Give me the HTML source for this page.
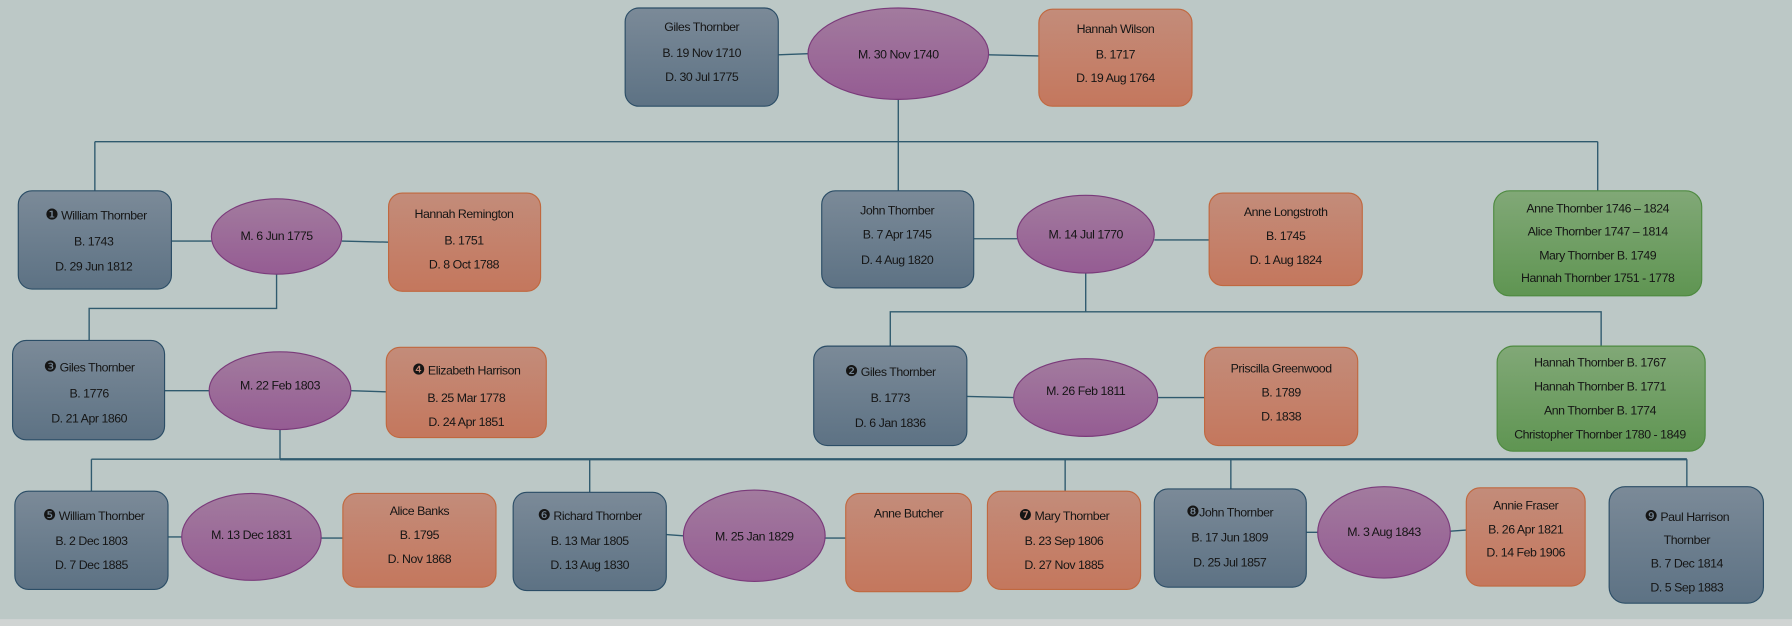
<!DOCTYPE html>
<html><head><meta charset="utf-8"><style>
html,body{margin:0;padding:0;background:#bcc8c6;}
svg{display:block;}
text{font-family:"Liberation Sans",sans-serif;font-size:10.8px;fill:#151515;text-anchor:middle;letter-spacing:-0.4px;}
tspan.n{font-family:"DejaVu Sans",sans-serif;font-size:13px;}
.l{stroke:#2f5a6e;stroke-width:1.2;fill:none;}
.b{fill:url(#gb);stroke:#2b4d66;stroke-width:1;}
.o{fill:url(#go);stroke:#c0683f;stroke-width:1;}
.p{fill:url(#gp);stroke:#7a3a7a;stroke-width:1;}
.g{fill:url(#gg);stroke:#4e8a40;stroke-width:1;}
</style></head><body>
<svg width="1792" height="626" viewBox="0 0 1568 548" preserveAspectRatio="none" xmlns="http://www.w3.org/2000/svg">
<defs>
<linearGradient id="gb" x1="0" y1="0" x2="0" y2="1"><stop offset="0" stop-color="#7b8a98"/><stop offset="1" stop-color="#5d7284"/></linearGradient>
<linearGradient id="go" x1="0" y1="0" x2="0" y2="1"><stop offset="0" stop-color="#c38c7a"/><stop offset="1" stop-color="#c4775d"/></linearGradient>
<linearGradient id="gp" x1="0" y1="0" x2="0" y2="1"><stop offset="0" stop-color="#a27b9e"/><stop offset="1" stop-color="#955c93"/></linearGradient>
<linearGradient id="gg" x1="0" y1="0" x2="0" y2="1"><stop offset="0" stop-color="#81a877"/><stop offset="1" stop-color="#5f9552"/></linearGradient>
</defs>
<rect x="0" y="0" width="1568" height="548" fill="#bcc8c6"/>
<rect x="0" y="542" width="1568" height="6" fill="#d0d4d3"/>

<path class="l" d="M681 48 L707 47 M865 48 L909 49 M786 87 V124 M83 124 H1398 M83 124 V167 M786 124 V167 M1398 124 V167"/>
<path class="l" d="M150 211 H185 M299 211 L340 212 M242 240 V270 H78 V298 M144 342 H183 M307 342 L338 343"/>
<path class="l" d="M852 209 H890 M1010 210 H1058 M950 239 V273 H779 V303 M950 273 H1401 V303 M846 347 L888 348 M1013 348 H1054"/>
<path class="l" d="M245 376 V402 M80 402 H245 M80 402 V430 M516 402 V431 M932 402 V430 M1077 402 V428 M1476 402 V426"/>
<path d="M245 402 H1476" stroke="#2f5a6e" stroke-width="2" fill="none"/>
<path class="l" d="M147 470 H159 M281 471 H300 M583 468 L598 469 M722 471 H740 M1143 466 H1153 M1269 465 L1283 464"/>

<rect class="b" x="547" y="7" width="134" height="86" rx="12"/>
<text x="614" y="27">Giles Thornber</text><text x="614" y="50">B. 19 Nov 1710</text><text x="614" y="71">D. 30 Jul 1775</text>
<ellipse class="p" cx="786" cy="47" rx="79" ry="40"/>
<text x="786" y="51">M. 30 Nov 1740</text>
<rect class="o" x="909" y="8" width="134" height="85" rx="12"/>
<text x="976" y="29">Hannah Wilson</text><text x="976" y="51">B. 1717</text><text x="976" y="72">D. 19 Aug 1764</text>

<rect class="b" x="16" y="167" width="134" height="86" rx="12"/>
<text x="84" y="192"><tspan class="n">❶</tspan> William Thornber</text><text x="82" y="215">B. 1743</text><text x="82" y="237">D. 29 Jun 1812</text>
<ellipse class="p" cx="242" cy="207" rx="57" ry="33"/>
<text x="242" y="210">M. 6 Jun 1775</text>
<rect class="o" x="340" y="169" width="133" height="86" rx="12"/>
<text x="406" y="191">Hannah Remington</text><text x="406" y="214">B. 1751</text><text x="406" y="235">D. 8 Oct 1788</text>

<rect class="b" x="719" y="167" width="133" height="85" rx="12"/>
<text x="785" y="188">John Thornber</text><text x="785" y="209">B. 7 Apr 1745</text><text x="785" y="231">D. 4 Aug 1820</text>
<ellipse class="p" cx="950" cy="205" rx="60" ry="34"/>
<text x="950" y="209">M. 14 Jul 1770</text>
<rect class="o" x="1058" y="169" width="134" height="81" rx="12"/>
<text x="1125" y="189">Anne Longstroth</text><text x="1125" y="210">B. 1745</text><text x="1125" y="231">D. 1 Aug 1824</text>

<rect class="g" x="1307" y="167" width="182" height="92" rx="14"/>
<text x="1398" y="186">Anne Thornber 1746 – 1824</text><text x="1398" y="206">Alice Thornber 1747 – 1814</text><text x="1398" y="227">Mary Thornber B. 1749</text><text x="1398" y="247">Hannah Thornber 1751 - 1778</text>

<rect class="b" x="11" y="298" width="133" height="87" rx="12"/>
<text x="78" y="325"><tspan class="n">❸</tspan> Giles Thornber</text><text x="78" y="348">B. 1776</text><text x="78" y="370">D. 21 Apr 1860</text>
<ellipse class="p" cx="245" cy="342" rx="62" ry="34"/>
<text x="245" y="341">M. 22 Feb 1803</text>
<rect class="o" x="338" y="304" width="140" height="79" rx="12"/>
<text x="408" y="328"><tspan class="n">❹</tspan> Elizabeth Harrison</text><text x="408" y="352">B. 25 Mar 1778</text><text x="408" y="373">D. 24 Apr 1851</text>

<rect class="b" x="712" y="303" width="134" height="87" rx="12"/>
<text x="779" y="329"><tspan class="n">❷</tspan> Giles Thornber</text><text x="779" y="352">B. 1773</text><text x="779" y="374">D. 6 Jan 1836</text>
<ellipse class="p" cx="950" cy="348" rx="63" ry="34"/>
<text x="950" y="346">M. 26 Feb 1811</text>
<rect class="o" x="1054" y="304" width="134" height="86" rx="12"/>
<text x="1121" y="326">Priscilla Greenwood</text><text x="1121" y="347">B. 1789</text><text x="1121" y="368">D. 1838</text>

<rect class="g" x="1310" y="303" width="182" height="92" rx="14"/>
<text x="1400" y="321">Hannah Thornber B. 1767</text><text x="1400" y="342">Hannah Thornber B. 1771</text><text x="1400" y="363">Ann Thornber B. 1774</text><text x="1400" y="384">Christopher Thornber 1780 - 1849</text>

<rect class="b" x="13" y="430" width="134" height="86" rx="12"/>
<text x="82" y="455"><tspan class="n">❺</tspan> William Thornber</text><text x="80" y="477">B. 2 Dec 1803</text><text x="80" y="498">D. 7 Dec 1885</text>
<ellipse class="p" cx="220" cy="470" rx="61" ry="38"/>
<text x="220" y="472">M. 13 Dec 1831</text>
<rect class="o" x="300" y="432" width="134" height="82" rx="12"/>
<text x="367" y="451">Alice Banks</text><text x="367" y="472">B. 1795</text><text x="367" y="493">D. Nov 1868</text>

<rect class="b" x="449" y="431" width="134" height="86" rx="12"/>
<text x="516" y="455"><tspan class="n">❻</tspan> Richard Thornber</text><text x="516" y="477">B. 13 Mar 1805</text><text x="516" y="498">D. 13 Aug 1830</text>
<ellipse class="p" cx="660" cy="469" rx="62" ry="40"/>
<text x="660" y="473">M. 25 Jan 1829</text>
<rect class="o" x="740" y="432" width="110" height="86" rx="12"/>
<text x="795" y="453">Anne Butcher</text>

<rect class="o" x="864" y="430" width="134" height="86" rx="12"/>
<text x="931" y="455"><tspan class="n">❼</tspan> Mary Thornber</text><text x="931" y="477">B. 23 Sep 1806</text><text x="931" y="498">D. 27 Nov 1885</text>

<rect class="b" x="1010" y="428" width="133" height="86" rx="12"/>
<text x="1076" y="452"><tspan class="n">❽</tspan>John Thornber</text><text x="1076" y="474">B. 17 Jun 1809</text><text x="1076" y="496">D. 25 Jul 1857</text>
<ellipse class="p" cx="1211" cy="466" rx="58" ry="40"/>
<text x="1211" y="469">M. 3 Aug 1843</text>
<rect class="o" x="1283" y="427" width="104" height="86" rx="12"/>
<text x="1335" y="446">Annie Fraser</text><text x="1335" y="467">B. 26 Apr 1821</text><text x="1335" y="487">D. 14 Feb 1906</text>

<rect class="b" x="1408" y="426" width="135" height="102" rx="14"/>
<text x="1476" y="456"><tspan class="n">❾</tspan> Paul Harrison</text><text x="1476" y="476">Thornber</text><text x="1476" y="497">B. 7 Dec 1814</text><text x="1476" y="518">D. 5 Sep 1883</text>
</svg>
</body></html>
